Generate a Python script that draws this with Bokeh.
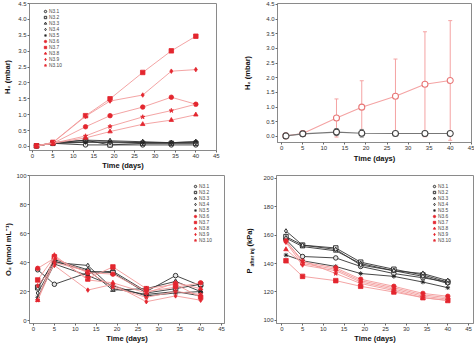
from bokeh.plotting import figure
from bokeh.layouts import column, row
from bokeh.models import (Range1d, Legend, LegendItem, Label, Whisker, ColumnDataSource,
                          TeeHead, FixedTicker, NumeralTickFormatter)
from bokeh.embed import file_html
from bokeh.resources import INLINE
import math

# ---------------- data ----------------
days = [1, 5, 13, 19, 27, 34, 40]
names = ["N3.1", "N3.2", "N3.3", "N3.4", "N3.5", "N3.6", "N3.7", "N3.8", "N3.9", "N3.10"]

# H2 (mbar) per sample
h2_values = [
    [0.02, 0.10, 0.05, 0.05, 0.05, 0.05, 0.05],
    [0.02, 0.10, 0.20, 0.05, 0.10, 0.10, 0.10],
    [0.02, 0.12, 0.20, 0.18, 0.15, 0.12, 0.15],
    [0.02, 0.10, 0.15, 0.12, 0.12, 0.12, 0.12],
    [0.02, 0.10, 0.13, 0.15, 0.12, 0.12, 0.15],
    [0.02, 0.10, 0.62, 0.97, 1.24, 1.55, 1.33],
    [0.02, 0.13, 0.97, 1.50, 2.33, 3.01, 3.47],
    [0.02, 0.10, 0.27, 0.47, 0.70, 0.83, 1.00],
    [0.02, 0.12, 0.95, 1.43, 1.62, 2.37, 2.42],
    [0.02, 0.10, 0.33, 0.63, 0.93, 1.13, 1.33],
]

# H2 group means and error bars
h2_mean_black = [0.02, 0.09, 0.15, 0.11, 0.10, 0.10, 0.10]
h2_err_black = [0.01, 0.03, 0.12, 0.13, 0.05, 0.08, 0.05]
h2_mean_red = [0.02, 0.10, 0.63, 1.00, 1.37, 1.78, 1.91]
h2_err_red = [0.01, 0.05, 0.65, 0.90, 1.27, 1.79, 2.04]

# O2 (nmol mL-1) per sample
o2_values = [
    [35, 25, 33, 34, 20, 31, 24],
    [23, 41, 34, 33, 19, 22, 25],
    [22, 42, 35, 21, 22, 27, 20],
    [19, 40, 38, 22, 18, 20, 17],
    [16, 39, 31, 24, 17, 19, 20],
    [36, 43, 33, 32, 20, 23, 26],
    [28, 44, 29, 37, 22, 25, 16],
    [14, 45, 28, 26, 19, 26, 22],
    [24, 38, 21, 25, 13, 17, 14],
    [14, 40, 34, 23, 16, 20, 18],
]

# P after injection (kPa) per sample
p_values = [
    [157, 145, 144, 138, 133, 130, 127],
    [159, 153, 151, 141, 136, 132, 127],
    [158, 152, 149, 140, 135, 133, 128],
    [163, 153, 150, 139, 135, 131, 126],
    [146, 142, 138, 133, 131, 127, 123],
    [156, 141, 137, 129, 124, 119, 117],
    [142, 131, 128, 124, 120, 116, 114],
    [150, 140, 136, 128, 123, 118, 116],
    [155, 139, 135, 127, 122, 117, 115],
    [156, 142, 133, 126, 121, 116, 114],
]

x_ticks = [0, 5, 10, 15, 20, 25, 30, 35, 40, 45]
h2_ticks = [0, 0.5, 1.0, 1.5, 2.0, 2.5, 3.0, 3.5, 4.0, 4.5]
o2_ticks = [0, 20, 40, 60, 80, 100]
p_ticks = [100, 120, 140, 160, 180, 200]

# ---------------- styles ----------------
FONT = "Liberation Sans"
markers = ["circle", "square", "triangle", "diamond", "asterisk",
           "circle", "square", "triangle", "diamond", "star"]
BLACK_LINE = "#333333"
BLACK_MARK = "#222222"
RED_LINE = "#f29a9a"
RED_MARK = "#e3262e"


def make_fig(w, h, bl, br, bt, bb, xr, yr, yticks, ylabel, ystand, xstand, yfmt=None):
    p = figure(width=w, height=h, x_range=Range1d(*xr), y_range=Range1d(*yr),
               output_backend="svg", toolbar_location=None, frame_align=False,
               min_border_left=bl, min_border_right=br, min_border_top=bt, min_border_bottom=bb)
    p.xgrid.visible = False
    p.ygrid.visible = False
    p.outline_line_color = "#8a8a8a"
    p.outline_line_width = 1
    p.background_fill_color = "white"
    p.border_fill_color = "white"
    p.xaxis.ticker = FixedTicker(ticks=x_ticks)
    p.yaxis.ticker = FixedTicker(ticks=yticks)
    if yfmt:
        p.yaxis.formatter = NumeralTickFormatter(format=yfmt)
    for ax in (p.xaxis[0], p.yaxis[0]):
        ax.axis_line_color = "#8a8a8a"
        ax.major_tick_line_color = "#666666"
        ax.major_tick_out = 2
        ax.major_tick_in = 0
        ax.minor_tick_line_color = None
        ax.major_label_text_font = FONT
        ax.major_label_text_font_size = "6px"
        ax.major_label_text_color = "#333333"
        ax.major_label_standoff = 1
        ax.axis_label_text_font = FONT
        ax.axis_label_text_font_size = "7.5px"
        ax.axis_label_text_font_style = "bold"
        ax.axis_label_text_color = "#111111"
    p.xaxis.axis_label = "Time (days)"
    p.xaxis.axis_label_standoff = xstand
    if ylabel:
        p.yaxis.axis_label = ylabel
    p.yaxis.axis_label_standoff = ystand
    return p


def add_series(p, values, loc):
    items = []
    for i, vals in enumerate(values):
        red = i >= 5
        lc = RED_LINE if red else BLACK_LINE
        mc = RED_MARK if red else BLACK_MARK
        src = ColumnDataSource(dict(x=days, y=vals))
        p.line("x", "y", source=src, line_color=lc, line_width=0.9)
        if red:
            r = p.scatter("x", "y", source=src, marker=markers[i], size=4.5,
                          fill_color=mc, line_color=mc, line_width=0.8)
        else:
            r = p.scatter("x", "y", source=src, marker=markers[i], size=4.5,
                          fill_color="#e6e6e6", line_color=mc, line_width=0.9)
        items.append(LegendItem(label=names[i], renderers=[r]))
    leg = Legend(items=items, location=loc, glyph_width=6, glyph_height=6,
                 label_height=6, spacing=0, padding=0, margin=0, label_standoff=1,
                 label_text_font=FONT, label_text_font_size="4.8px", label_text_color="#444444",
                 border_line_color=None, background_fill_alpha=0)
    p.add_layout(leg)


# ---- panel 1: H2 per sample ----
p1 = make_fig(237, 172, 26, 21, 3, 22, (-0.72, 45.06), (-0.126, 4.5), h2_ticks,
              "H\u2082 (mbar)", 3, 0, "0.0")
add_series(p1, h2_values, (13, 82))

# ---- panel 2: H2 group means ----
p2 = make_fig(237, 172, 40, 3, 3, 30, (-1.0, 45.05), (-0.205, 4.534), h2_ticks,
              "H\u2082 (mbar)", 11, 1, "0.0")
for mean, err, lc, mc in ((h2_mean_red, h2_err_red, "#f4a3a3", "#e87878"),
                          (h2_mean_black, h2_err_black, "#777777", "#444444")):
    src = ColumnDataSource(dict(x=days, y=mean,
                                upper=[m + e for m, e in zip(mean, err)],
                                lower=[m - e for m, e in zip(mean, err)]))
    w = Whisker(base="x", upper="upper", lower="lower", source=src,
                line_color=lc, line_width=1,
                upper_head=TeeHead(size=4, line_color=lc, line_width=1),
                lower_head=TeeHead(size=4, line_color=lc, line_width=1))
    p2.add_layout(w)
    p2.line("x", "y", source=src, line_color=lc, line_width=1.1)
    p2.scatter("x", "y", source=src, marker="circle", size=6, fill_color="white",
               line_color=mc, line_width=1.1)

# ---- panel 3: O2 ----
p3 = make_fig(237, 173, 29, 13, 3, 19, (-0.96, 45.71), (-2.03, 100), o2_ticks,
              "O\u2082 (nmol mL\u207b\u00b9)", 0, 0)
add_series(p3, o2_values, (163, 80))

# ---- narrow strip holding the y-axis title of panel 4 (P with subscript) ----
pt = figure(width=20, height=173, x_range=Range1d(0, 1), y_range=Range1d(0, 1),
            output_backend="svg", toolbar_location=None, min_border=0, frame_align=False)
pt.axis.visible = False
pt.xgrid.visible = False
pt.ygrid.visible = False
pt.outline_line_color = None
pt.background_fill_color = "white"
pt.border_fill_color = "white"
for txt, sx, sy, fs in (("P", 12, 72, "7.5px"), ("after inj", 14.5, 79, "5px"),
                        ("(kPa)", 12, 99, "7.5px")):
    pt.add_layout(Label(x=sx, y=sy, x_units="screen", y_units="screen", text=txt,
                        angle=math.pi / 2, text_align="left", text_baseline="middle",
                        text_font=FONT, text_font_size=fs, text_font_style="bold",
                        text_color="#111111"))

# ---- panel 4: P after injection ----
p4 = make_fig(217, 173, 19, 1, 3, 19, (-1.28, 46.19), (97.8, 202.07), p_ticks,
              None, 0, 0)
add_series(p4, p_values, (155, 80))

layout = column(row(p1, p2), row(p3, pt, p4))
open("out.html", "w").write(file_html(layout, INLINE))
